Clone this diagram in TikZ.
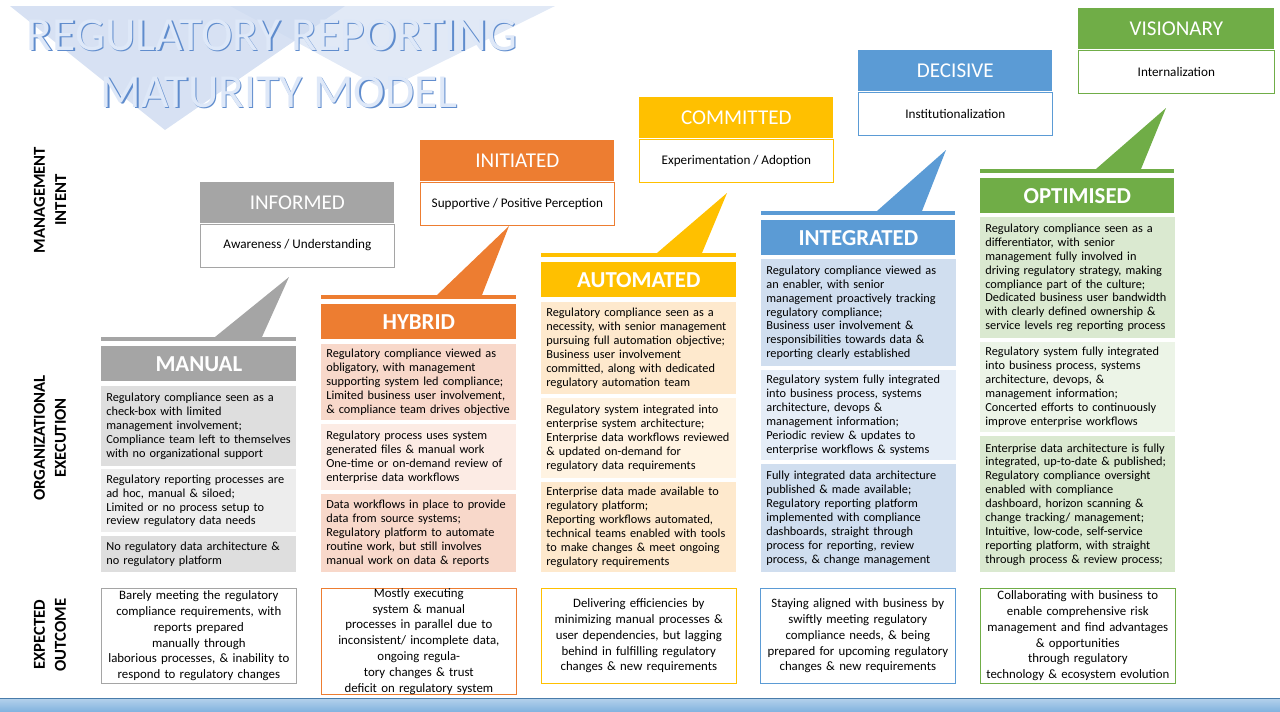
\documentclass[tikz,border=0pt]{standalone}
\usepackage{fontspec}
\setmainfont{Carlito}
\usetikzlibrary{positioning}
\definecolor{manualc}{RGB}{165,165,165}
\definecolor{manuala}{RGB}{222,222,222}
\definecolor{manualb}{RGB}{237,237,237}
\definecolor{hybridc}{RGB}{237,125,49}
\definecolor{hybrida}{RGB}{248,216,202}
\definecolor{hybridb}{RGB}{252,235,228}
\definecolor{autoc}{RGB}{255,192,0}
\definecolor{autoa}{RGB}{254,233,205}
\definecolor{autob}{RGB}{255,243,226}
\definecolor{integc}{RGB}{91,155,213}
\definecolor{intega}{RGB}{208,222,239}
\definecolor{integb}{RGB}{229,237,247}
\definecolor{optc}{RGB}{112,173,71}
\definecolor{opta}{RGB}{218,233,208}
\definecolor{optb}{RGB}{236,244,231}
\definecolor{titlefill}{RGB}{222,232,248}
\definecolor{titleedge}{RGB}{95,140,205}
\definecolor{tribg}{RGB}{205,218,240}

\begin{document}
\begin{tikzpicture}[
    x=0.02cm, y=-0.02cm,
    % Styles
    header/.style={anchor=north west, fill=#1, text=white, minimum width=3.9cm, minimum height=0.7cm, inner sep=0pt, font=\fontsize{13}{15}\selectfont\bfseries},
    intenthead/.style={anchor=north west, fill=#1, text=white, minimum width=3.88cm, minimum height=0.82cm, inner sep=0pt, font=\fontsize{12}{14}\selectfont},
    intentbox/.style={anchor=north, draw=#1, fill=white, minimum width=3.88cm, minimum height=0.86cm, inner sep=0pt, font=\fontsize{7.5}{9}\selectfont},
    cell/.style={anchor=north west, fill=#1, text width=3.7cm, inner xsep=0.1cm, inner ysep=0pt, align=left, font=\fontsize{7}{7.9}\selectfont},
    outcome/.style={anchor=north west, draw=#1, fill=white, minimum width=3.9cm, minimum height=1.9cm, text width=3.7cm, inner sep=0pt, align=center, font=\fontsize{7.3}{9}\selectfont},
    sidelabel/.style={rotate=90, align=center, font=\fontsize{9.5}{12}\selectfont\bfseries}
]
    \useasboundingbox (0,0) rectangle (1280,711);

    % Title with background triangles
    \fill[tribg, opacity=0.8] (10,6) -- (345,6) -- (165,130) -- cycle;
    \fill[tribg, opacity=0.6] (230,6) -- (555,6) -- (385,90) -- cycle;
    \node[text=titleedge, font=\fontsize{27}{32}\selectfont] (titleshade) at (273.5,36.5) {REGULATORY REPORTING};
    \node[text=titlefill, font=\fontsize{27}{32}\selectfont] (title) at (272,35) {REGULATORY REPORTING};
    \node[text=titleedge, font=\fontsize{27}{32}\selectfont] (subtitleshade) at (280.5,93.5) {MATURITY MODEL};
    \node[text=titlefill, font=\fontsize{27}{32}\selectfont] (subtitle) at (279,92) {MATURITY MODEL};

    % Side labels
    \node[sidelabel] (intent) at (50,200) {MANAGEMENT\\INTENT};
    \node[sidelabel] (execution) at (50,438) {ORGANIZATIONAL\\EXECUTION};
    \node[sidelabel] (expected) at (50,635) {EXPECTED\\OUTCOME};

    % Manual / Informed
    \fill[manualc] (101,337) rectangle (296,341);
    \fill[manualc] (215,337) -- (262,337) -- (289,277) -- cycle;
    \node[header=manualc] (manual) at (101,346) {MANUAL};
    \node[cell=manuala, minimum height=1.6cm] (manual1) at (101,386) {Regulatory compliance seen as a\\check-box with limited\\management involvement;\\Compliance team left to themselves\\with no organizational support};
    \node[cell=manualb, minimum height=1.26cm] (manual2) at (101,469) {Regulatory reporting processes are\\ad hoc, manual \& siloed;\\Limited or no process setup to\\review regulatory data needs};
    \node[cell=manuala, minimum height=0.72cm] (manual3) at (101,536) {No regulatory data architecture \&\\no regulatory platform};
    \node[intenthead=manualc] (informed) at (200,182) {INFORMED};
    \node[intentbox=manualc, below=0pt of informed] (informedbox) {Awareness / Understanding};

    % Hybrid / Initiated
    \fill[hybridc] (321,295) rectangle (516,299);
    \fill[hybridc] (437,295) -- (482,295) -- (509,226) -- cycle;
    \node[header=hybridc] (hybrid) at (321,304) {HYBRID};
    \node[cell=hybrida, minimum height=1.52cm] (hybrid1) at (321,344) {Regulatory compliance viewed as\\obligatory, with management\\supporting system led compliance;\\Limited business user involvement,\\\& compliance team drives objective};
    \node[cell=hybridb, minimum height=1.32cm] (hybrid2) at (321,424) {Regulatory process uses system\\generated files \& manual work\\One-time or on-demand review of\\enterprise data workflows};
    \node[cell=hybrida, minimum height=1.56cm] (hybrid3) at (321,494) {Data workflows in place to provide\\data from source systems;\\Regulatory platform to automate\\routine work, but still involves\\manual work on data \& reports};
    \node[intenthead=hybridc] (initiated) at (420,140) {INITIATED};
    \node[intentbox=hybridc, below=0pt of initiated] (initiatedbox) {Supportive / Positive Perception};

    % Automated / Committed
    \fill[autoc] (541,253) rectangle (736,257);
    \fill[autoc] (657,253) -- (702,253) -- (727,193) -- cycle;
    \node[header=autoc] (automated) at (541,262) {AUTOMATED};
    \node[cell=autoa, minimum height=1.84cm] (auto1) at (541,302) {Regulatory compliance seen as a\\necessity, with senior management\\pursuing full automation objective;\\Business user involvement\\committed, along with dedicated\\regulatory automation team};
    \node[cell=autob, minimum height=1.6cm] (auto2) at (541,398) {Regulatory system integrated into\\enterprise system architecture;\\Enterprise data workflows reviewed\\\& updated on-demand for\\regulatory data requirements};
    \node[cell=autoa, minimum height=1.8cm] (auto3) at (541,482) {Enterprise data made available to\\regulatory platform;\\Reporting workflows automated,\\technical teams enabled with tools\\to make changes \& meet ongoing\\regulatory requirements};
    \node[intenthead=autoc] (committed) at (639,97) {COMMITTED};
    \node[intentbox=autoc, below=0pt of committed] (committedbox) {Experimentation / Adoption};

    % Integrated / Decisive
    \fill[integc] (761,211) rectangle (955,215);
    \fill[integc] (877,211) -- (922,211) -- (946,150) -- cycle;
    \node[header=integc, minimum width=3.88cm] (integrated) at (761,220) {INTEGRATED};
    \node[cell=intega, minimum height=2.14cm] (integ1) at (761,259) {Regulatory compliance viewed as\\an enabler, with senior\\management proactively tracking\\regulatory  compliance;\\Business user involvement \&\\responsibilities towards data \&\\reporting clearly established};
    \node[cell=integb, minimum height=1.8cm] (integ2) at (761,370) {Regulatory system fully integrated\\into business process, systems\\architecture, devops \&\\management information;\\Periodic review \& updates to\\enterprise workflows \& systems};
    \node[cell=intega, minimum height=2.16cm] (integ3) at (761,464) {Fully integrated data architecture\\published \& made available;\\Regulatory reporting platform\\implemented with compliance\\dashboards, straight through\\process for reporting, review\\process, \& change management};
    \node[intenthead=integc] (decisive) at (858,50) {DECISIVE};
    \node[intentbox=integc, below=0pt of decisive] (decisivebox) {Institutionalization};

    % Optimised / Visionary
    \fill[optc] (980,169) rectangle (1174,173);
    \fill[optc] (1096,169) -- (1141,169) -- (1166,108) -- cycle;
    \node[header=optc, minimum width=3.88cm] (optimised) at (980,178) {OPTIMISED};
    \node[cell=opta, minimum height=2.42cm] (opt1) at (980,217) {Regulatory compliance seen as a\\differentiator, with senior\\management fully involved in\\driving regulatory strategy, making\\compliance part of the culture;\\Dedicated business user bandwidth\\with clearly defined ownership \&\\service levels reg reporting process};
    \node[cell=optb, minimum height=1.8cm] (opt2) at (980,342) {Regulatory system fully integrated\\into business process, systems\\architecture, devops, \&\\management information;\\Concerted efforts to continuously\\improve enterprise workflows};
    \node[cell=opta, minimum height=2.72cm] (opt3) at (980,436) {Enterprise data architecture is fully\\integrated, up-to-date \& published;\\Regulatory compliance oversight\\enabled with compliance\\dashboard, horizon scanning \&\\change tracking/ management;\\Intuitive, low-code, self-service\\reporting platform, with straight\\through process \& review process;};
    \node[intenthead=optc, minimum width=3.92cm] (visionary) at (1078,8) {VISIONARY};
    \node[intentbox=optc, minimum width=3.92cm, below=0pt of visionary] (visionarybox) {Internalization};

    % Expected outcomes
    \node[outcome=manualc] (out1) at (101,588) {Barely meeting the regulatory\\compliance requirements, with\\reports prepared manually through\\laborious processes, \& inability to\\respond to regulatory changes};
    \node[outcome=hybridc] (out2) at (321,588) {Mostly executing system \& manual\\processes in parallel due to\\inconsistent/ incomplete data,\\ongoing regulatory changes \& trust\\deficit on regulatory system};
    \node[outcome=autoc] (out3) at (541,588) {Delivering efficiencies by\\minimizing manual processes \&\\user dependencies, but lagging\\behind in fulfilling regulatory\\changes \& new requirements};
    \node[outcome=integc] (out4) at (760,588) {Staying aligned with business by\\swiftly meeting regulatory\\compliance needs, \& being\\prepared for upcoming regulatory\\changes \& new requirements};
    \node[outcome=optc] (out5) at (980,588) {Collaborating with business to\\enable comprehensive risk\\management and find advantages\\\& opportunities through regulatory\\technology \& ecosystem evolution};

    % Bottom bar
    \shade[top color=integc!45, bottom color=integc!75] (0,698) rectangle (1280,711);
    \draw[integc!80!black, line width=0.4pt] (0,698) -- (1280,698);
\end{tikzpicture}
\end{document}
